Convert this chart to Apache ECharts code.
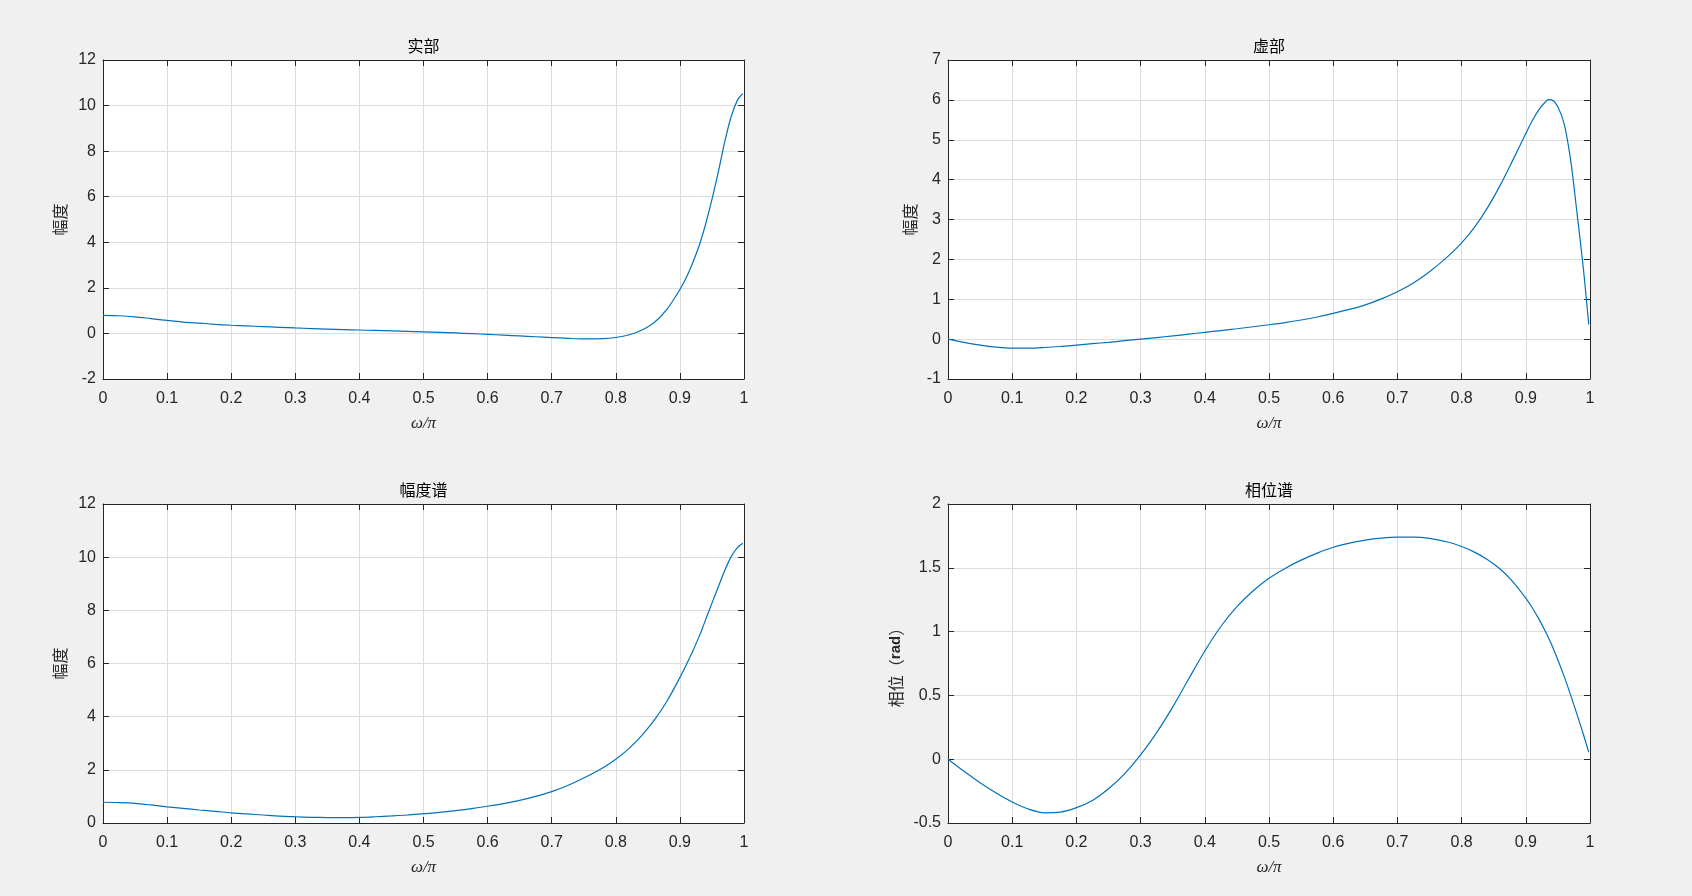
<!DOCTYPE html>
<html>
<head>
<meta charset="utf-8">
<script src="https://cdn.jsdelivr.net/npm/echarts@6/dist/echarts.min.js"></script>
<style>
  html, body { margin: 0; padding: 0; background: #f0f0f0; }
  #chart { width: 1692px; height: 896px; }
</style>
</head>
<body>
<div id="chart"></div>
<script>
// 频率点 ω/π
const w = [0, 0.025, 0.05, 0.075, 0.1, 0.125, 0.15, 0.175, 0.2, 0.225, 0.25, 0.275, 0.3, 0.325, 0.35,
  0.375, 0.4, 0.425, 0.45, 0.475, 0.5, 0.525, 0.55, 0.575, 0.6, 0.625, 0.65, 0.675, 0.7, 0.725, 0.75,
  0.78, 0.8, 0.82, 0.84, 0.86, 0.88, 0.9, 0.91, 0.92, 0.93, 0.935, 0.94, 0.95, 0.96, 0.97, 0.98,
  0.99, 0.998]
// 实部
const realPart = [0.79, 0.775, 0.73, 0.65, 0.57, 0.50, 0.45, 0.40, 0.36, 0.33, 0.30, 0.27, 0.24, 0.215, 0.19,
  0.17, 0.15, 0.13, 0.11, 0.09, 0.07, 0.045, 0.02, -0.01, -0.04, -0.075, -0.11, -0.145, -0.18, -0.215, -0.24,
  -0.23, -0.18, -0.07, 0.14, 0.48, 1.07, 1.93, 2.45, 3.1, 3.85, 4.3, 4.78, 5.88, 7.1, 8.42, 9.52,
  10.25, 10.52]
// 虚部
const imagPart = [0, -0.08, -0.15, -0.2, -0.225, -0.225, -0.21, -0.185, -0.15, -0.115, -0.08, -0.04, 0.0, 0.04, 0.08,
  0.125, 0.17, 0.215, 0.26, 0.31, 0.36, 0.415, 0.48, 0.555, 0.645, 0.745, 0.86, 1.01, 1.19, 1.41, 1.69,
  2.095, 2.415, 2.805, 3.285, 3.855, 4.495, 5.155, 5.475, 5.745, 5.94, 6.005, 6.0, 5.82, 5.38, 4.47, 3.13,
  1.72, 0.37]
// 幅度谱
const magnitude = [0.78, 0.77, 0.74, 0.68, 0.61, 0.55, 0.49, 0.44, 0.38, 0.34, 0.30, 0.26, 0.235, 0.215, 0.205,
  0.2, 0.21, 0.235, 0.265, 0.3, 0.35, 0.4, 0.465, 0.54, 0.63, 0.73, 0.85, 1.0, 1.18, 1.41, 1.69,
  2.08, 2.4, 2.79, 3.28, 3.87, 4.59, 5.47, 5.95, 6.46, 7.02, 7.32, 7.64, 8.27, 8.89, 9.5, 10.02,
  10.37, 10.52]
// 相位谱
const phase = [0, -0.095, -0.185, -0.265, -0.335, -0.39, -0.42, -0.415, -0.38, -0.323, -0.232, -0.115, 0.033, 0.208, 0.408,
  0.63, 0.848, 1.04, 1.195, 1.318, 1.418, 1.495, 1.56, 1.615, 1.661, 1.694, 1.717, 1.732, 1.74, 1.74, 1.73,
  1.70, 1.667, 1.623, 1.565, 1.49, 1.39, 1.262, 1.187, 1.102, 1.007, 0.955, 0.9, 0.778, 0.645, 0.5, 0.347,
  0.19, 0.055]

// 纵轴范围 [min, max, interval]
const realAxis = [-2, 12, 2]
const imagAxis = [-1, 7, 1]
const magAxis = [0, 12, 2]
const phaseAxis = [-0.5, 2, 0.5]

const titles = ['实部', '虚部', '幅度谱', '相位谱']
const yNames = ['幅度', '幅度', '幅度', '{a|相位（}{b|rad}{a|）}']

const axisColor = '#262626'
const numFont = 'Liberation Sans'
const cjkFont = 'Noto Sans CJK SC'

// 子图位置
const panels = [
  { left: 103, top: 60, width: 641, height: 319, data: realPart, range: realAxis, nameGap: 35 },
  { left: 948, top: 60, width: 642, height: 319, data: imagPart, range: imagAxis, nameGap: 30 },
  { left: 103, top: 504, width: 641, height: 319, data: magnitude, range: magAxis, nameGap: 35 },
  { left: 948, top: 504, width: 642, height: 319, data: phase, range: phaseAxis, nameGap: 44 }
]

const grid = [], xAxis = [], yAxis = [], series = [], title = []
const lineCommon = { show: true, onZero: false, lineStyle: { color: axisColor, width: 1 } }
const tickCommon = { show: true, inside: true, length: 6, lineStyle: { color: axisColor, width: 1 } }

panels.forEach((p, i) => {
  grid.push({ left: p.left, top: p.top, width: p.width, height: p.height,
    show: true, backgroundColor: '#fff', borderWidth: 0 })
  title.push({ text: titles[i], left: p.left + p.width / 2, top: p.top - 22, textAlign: 'center', padding: 0,
    textStyle: { fontFamily: cjkFont, fontSize: 16, fontWeight: 'normal', color: '#000' } })
  // 下、上横轴
  xAxis.push({
    type: 'value', gridIndex: i, position: 'bottom', min: 0, max: 1, interval: 0.1,
    axisLine: lineCommon, axisTick: tickCommon,
    axisLabel: { margin: 12, fontSize: 16, color: axisColor, fontFamily: numFont,
      formatter: v => String(+v.toFixed(1)) },
    splitLine: { show: true, lineStyle: { color: '#dcdcdc', width: 1 } },
    name: 'ω/π', nameLocation: 'middle', nameGap: 36,
    nameTextStyle: { fontFamily: 'Liberation Serif', fontStyle: 'italic', fontSize: 17, color: axisColor }
  })
  xAxis.push({
    type: 'value', gridIndex: i, position: 'top', min: 0, max: 1, interval: 0.1,
    axisLine: lineCommon, axisTick: tickCommon, axisLabel: { show: false }, splitLine: { show: false }
  })
  // 左、右纵轴
  yAxis.push({
    type: 'value', gridIndex: i, position: 'left', min: p.range[0], max: p.range[1], interval: p.range[2],
    axisLine: lineCommon, axisTick: tickCommon,
    axisLabel: { margin: 7, fontSize: 16, color: axisColor, fontFamily: numFont },
    splitLine: { show: true, lineStyle: { color: '#dcdcdc', width: 1 } },
    name: yNames[i], nameLocation: 'middle', nameGap: p.nameGap, nameRotate: 90,
    nameTextStyle: { fontFamily: cjkFont, fontSize: 16, color: axisColor,
      rich: {
        a: { fontFamily: cjkFont, fontSize: 16, color: axisColor },
        b: { fontFamily: 'Liberation Sans', fontSize: 15, fontWeight: 'bold', color: axisColor }
      } }
  })
  yAxis.push({
    type: 'value', gridIndex: i, position: 'right', min: p.range[0], max: p.range[1], interval: p.range[2],
    axisLine: lineCommon, axisTick: tickCommon, axisLabel: { show: false }, splitLine: { show: false }
  })
  series.push({
    type: 'line', xAxisIndex: 2 * i, yAxisIndex: 2 * i,
    data: w.map((x, k) => [x, p.data[k]]),
    showSymbol: false, smooth: 0.3, clip: true,
    lineStyle: { color: '#0072BD', width: 1.2 }
  })
})

const chart = echarts.init(document.getElementById('chart'))
chart.setOption({
  backgroundColor: '#f0f0f0',
  animation: false,
  title: title,
  grid: grid,
  xAxis: xAxis,
  yAxis: yAxis,
  series: series
})
</script>
</body>
</html>
